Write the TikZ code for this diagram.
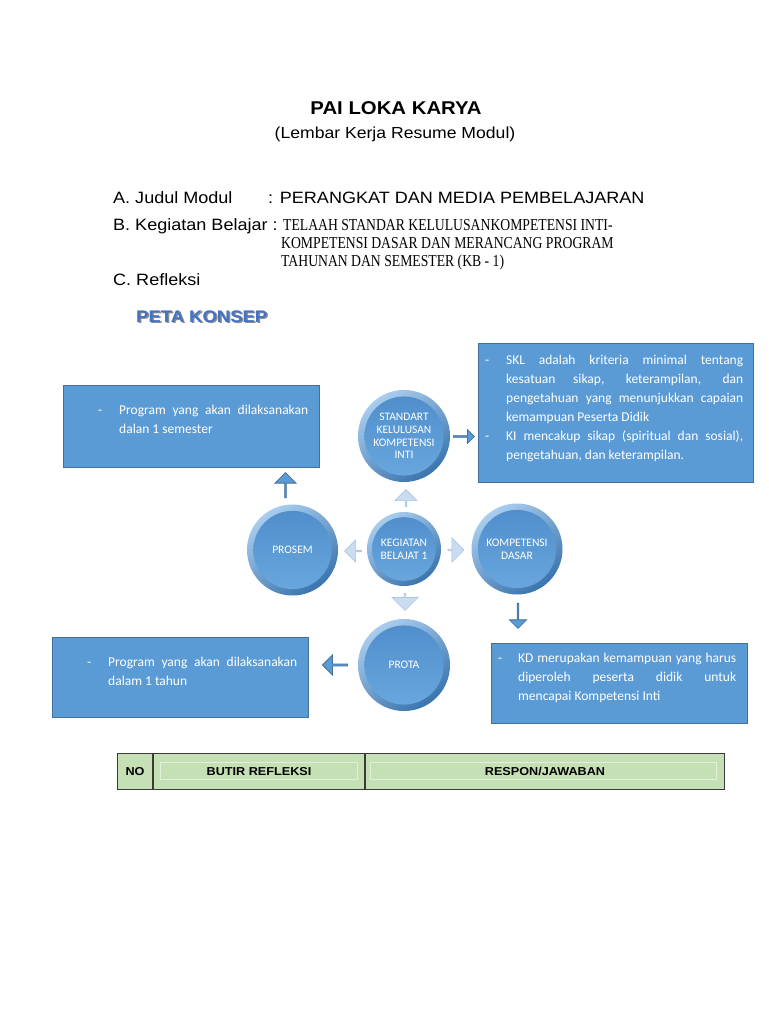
\documentclass[tikz,border=0pt]{standalone}
\usepackage{fontspec}
\setmainfont{Liberation Sans}[FakeStretch=1.1]
\newfontfamily\califont{Carlito}
\newfontfamily\kbfont{Liberation Serif}[FakeStretch=0.82]
\usetikzlibrary{positioning,shapes.arrows}

\definecolor{boxblue}{HTML}{5B9BD5}
\definecolor{boxline}{HTML}{41719C}
\definecolor{rimlight}{HTML}{A9CDEE}
\definecolor{rimdark}{HTML}{3A74AD}
\definecolor{coretop}{HTML}{4E8DCB}
\definecolor{corebot}{HTML}{6AA8DE}
\definecolor{paleblue}{HTML}{C9DCF0}
\definecolor{paleline}{HTML}{A7C5E6}
\definecolor{petablue}{HTML}{4472C4}
\definecolor{tablegreen}{HTML}{C5E0B4}
\definecolor{tablerule}{HTML}{3A3A3A}
\definecolor{innerrule}{HTML}{E2EFDA}
\setlength{\parindent}{0pt}
\hyphenpenalty=10000
\exhyphenpenalty=10000

\tikzset{
  infobox/.style={rectangle, fill=boxblue, draw=boxline, line width=1.2pt, inner sep=0pt, anchor=north west},
  infotext/.style={text=white, font=\califont\fontsize{13.5}{19}\selectfont, align=justify, inner sep=0pt, anchor=base west},
  concept/.style={circle, minimum size=#1, inner sep=0pt, text=white, align=center,
    font=\califont\fontsize{11.5}{12.7}\selectfont, top color=rimlight, bottom color=rimdark, shading angle=35,
    path picture={\shade[top color=coretop, bottom color=corebot] (path picture bounding box.center) circle [radius=0.43*#1pt];}},
  darkarrow/.style={single arrow, fill=boxblue, draw=boxline, line width=0.8pt, inner sep=0pt, single arrow head extend=#1},
  palearrow/.style={single arrow, fill=paleblue, draw=paleline, line width=0.6pt, inner sep=0pt, single arrow head extend=4pt},
  headrow/.style={font=\fontsize{16.4}{19}\selectfont, inner sep=0pt, anchor=base west},
  kbline/.style={font=\kbfont\fontsize{16.7}{18}\selectfont, inner sep=0pt, anchor=base west},
  tablecell/.style={rectangle, fill=tablegreen, draw=tablerule, line width=1pt, minimum height=36, inner sep=0pt,
    font=\bfseries\fontsize{11.5}{13}\selectfont, anchor=north west}
}

\newcommand{\itemdash}[1]{\leavevmode\llap{-\kern#1pt}}

\begin{document}
\begin{tikzpicture}[x=1pt, y=-1pt]
  \fill[white] (0,0) rectangle (768,1024);
  \useasboundingbox (0,0) rectangle (768,1024);

  % Heading
  \node[font=\bfseries\fontsize{18.5}{22}\selectfont, anchor=base, inner sep=0pt] (title) at (396,115) {PAI LOKA KARYA};
  \node[font=\fontsize{16}{19}\selectfont, anchor=base, inner sep=0pt] (subtitle) at (395,139) {(Lembar Kerja Resume Modul)};

  \node[headrow] (judullabel) at (113,204) {A. Judul Modul};
  \node[headrow] (judultext) at (268,204) {: PERANGKAT DAN MEDIA PEMBELAJARAN};
  \node[headrow] (kegiatanlabel) at (113,230) {B. Kegiatan Belajar :};
  \node[kbline] (kbone) at (283,230) {TELAAH STANDAR KELULUSANKOMPETENSI INTI-};
  \node[kbline] (kbtwo) at (281,248) {KOMPETENSI DASAR DAN MERANCANG PROGRAM};
  \node[kbline] (kbthree) at (281,266) {TAHUNAN DAN SEMESTER (KB - 1)};
  \node[headrow] (refleksi) at (113,285) {C. Refleksi};

  \node[font=\bfseries\fontsize{16.8}{20}\selectfont, text=black!45, anchor=base west, inner sep=0pt] (petashadow) at (137.5,323.5) {PETA KONSEP};
  \node[font=\bfseries\fontsize{16.8}{20}\selectfont, text=petablue, anchor=base west, inner sep=0pt] (petakonsep) at (136,322) {PETA KONSEP};

  % Text boxes
  \node[infobox, minimum width=256, minimum height=82] (semesterbox) at (63,385) {};
  \node[infobox, minimum width=275, minimum height=139] (sklbox) at (478,343) {};
  \node[infobox, minimum width=256, minimum height=80] (tahunbox) at (52,637) {};
  \node[infobox, minimum width=256, minimum height=80] (kdbox) at (491,643) {};

  \node[infotext, text width=189] (semestertext) at (119,414.5)
    {\itemdash{17}Program yang akan dilaksanakan\linebreak dalan 1 semester};
  \node[infotext, text width=237] (skltext) at (506,364.5)
    {\itemdash{17}SKL adalah kriteria minimal tentang\linebreak kesatuan sikap, keterampilan, dan\linebreak
     pengetahuan yang menunjukkan capaian\linebreak kemampuan Peserta Didik\par
     \itemdash{17}KI mencakup sikap (spiritual dan sosial),\linebreak pengetahuan, dan keterampilan.};
  \node[infotext, text width=189] (tahuntext) at (108,666.5)
    {\itemdash{17}Program yang akan dilaksanakan\linebreak dalam 1 tahun};
  \node[infotext, text width=218] (kdtext) at (518,662.5)
    {\itemdash{16}KD merupakan kemampuan yang harus\linebreak diperoleh peserta didik untuk\linebreak mencapai Kompetensi Inti};

  % Concept circles
  \node[concept=92] (standart) at (404,436) {STANDART\\KELULUSAN\\KOMPETENSI\\INTI};
  \node[concept=74] (kegiatan) at (404,549) {KEGIATAN\\BELAJAT 1};
  \node[concept=91] (prosem) at (292.5,550) {PROSEM};
  \node[concept=91] (kompetensi) at (517,549) {KOMPETENSI\\DASAR};
  \node[concept=92] (prota) at (404,665) {PROTA};

  % Block arrows
  \node[palearrow, minimum height=17, minimum width=22, shape border rotate=90] (upstandart) at (406,498.5) {};
  \node[palearrow, minimum height=17, minimum width=22, shape border rotate=180] (leftprosem) at (353.5,551) {};
  \node[palearrow, minimum height=16, minimum width=24, shape border rotate=0] (rightkd) at (455.5,550) {};
  \node[palearrow, minimum height=17, minimum width=26, shape border rotate=270] (downprota) at (405,601.5) {};

  \node[darkarrow=5pt, minimum height=25, minimum width=21, shape border rotate=90] (upsemester) at (285.5,485.5) {};
  \node[darkarrow=3pt, minimum height=21, minimum width=14, shape border rotate=0] (rightskl) at (463.5,436.5) {};
  \node[darkarrow=4pt, minimum height=25, minimum width=17, shape border rotate=270] (downkd) at (518,615.5) {};
  \node[darkarrow=4pt, minimum height=25, minimum width=20, shape border rotate=180] (lefttahun) at (335.5,665) {};

  % Reflection table
  \node[tablecell, minimum width=35] (nocell) at (117,753) {NO};
  \node[tablecell, minimum width=211, right=0pt of nocell] (butircell) {BUTIR REFLEKSI};
  \node[tablecell, minimum width=359, right=0pt of butircell] (responcell) {RESPON/JAWABAN};
  \draw[innerrule, line width=0.8pt] (160,762) rectangle (357,779);
  \draw[innerrule, line width=0.8pt] (370,762) rectangle (716,779);
\end{tikzpicture}
\end{document}
